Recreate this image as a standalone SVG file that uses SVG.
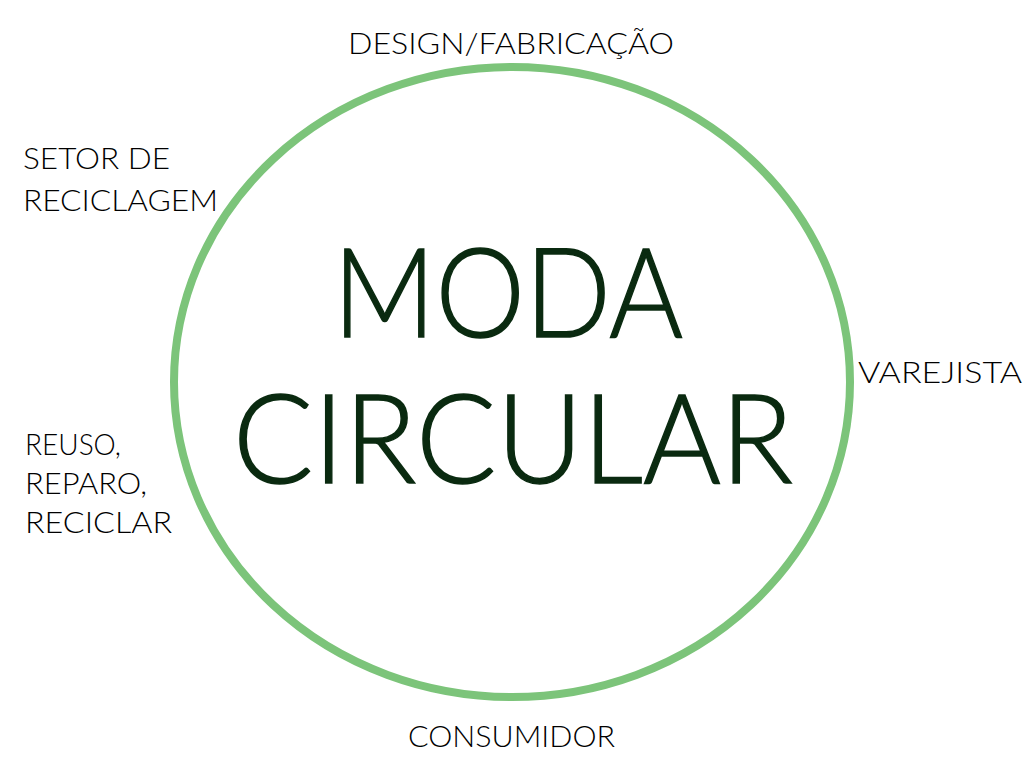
<svg xmlns="http://www.w3.org/2000/svg" width="1024" height="768" viewBox="0 0 1024 768">
<style>
.lbl{font-family:Lato,"Liberation Sans",sans-serif;font-size:30px;font-weight:300;fill:#000}
.big{font-family:Lato,"Liberation Sans",sans-serif;font-size:124px;font-weight:300;fill:#0a2a10;stroke:#0a2a10;stroke-width:1.5}
</style>
<rect width="1024" height="768" fill="#fff"/>
<g id="connectors">
<ellipse id="ring" cx="512" cy="382" rx="338" ry="315" fill="none" stroke="#7cc47a" stroke-width="8"/>
</g>
<g id="center">
<text class="big" x="333" y="337" textLength="350" lengthAdjust="spacingAndGlyphs">MODA</text>
<text class="big" x="233" y="483" textLength="560" lengthAdjust="spacingAndGlyphs">CIRCULAR</text>
</g>
<g id="design"><text class="lbl" x="348" y="54" textLength="326" lengthAdjust="spacingAndGlyphs">DESIGN/FABRICAÇÃO</text></g>
<g id="setor">
<text class="lbl" x="23" y="169" textLength="147" lengthAdjust="spacingAndGlyphs">SETOR DE</text>
<text class="lbl" x="23" y="211" textLength="195" lengthAdjust="spacingAndGlyphs">RECICLAGEM</text>
</g>
<g id="reuso">
<text class="lbl" x="25" y="455" textLength="96" lengthAdjust="spacingAndGlyphs">REUSO,</text>
<text class="lbl" x="25" y="494" textLength="122" lengthAdjust="spacingAndGlyphs">REPARO,</text>
<text class="lbl" x="25" y="533" textLength="147" lengthAdjust="spacingAndGlyphs">RECICLAR</text>
</g>
<g id="varejista"><text class="lbl" x="858" y="383" textLength="164" lengthAdjust="spacingAndGlyphs">VAREJISTA</text></g>
<g id="consumidor"><text class="lbl" x="408" y="747" textLength="207" lengthAdjust="spacingAndGlyphs">CONSUMIDOR</text></g>
</svg>
